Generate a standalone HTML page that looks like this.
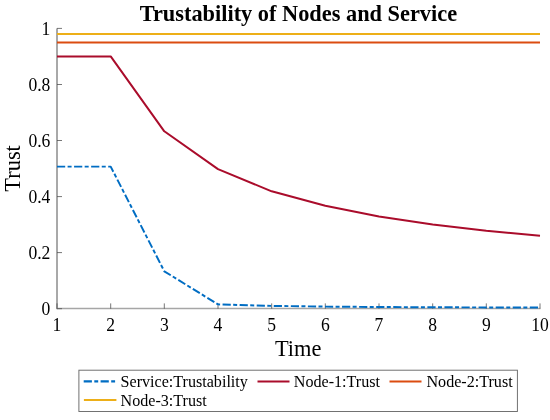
<!DOCTYPE html><html><head><meta charset="utf-8"><style>html,body{margin:0;padding:0;background:#fff}svg{display:block}text{font-family:"Liberation Serif",serif;fill:#000}</style></head><body>
<svg width="550" height="420" viewBox="0 0 550 420">
<rect width="550" height="420" fill="#fff"/>
<path d="M57.0 28.4V309.1" fill="none" stroke="#262626" stroke-width="0.8"/>
<path d="M56.6 308.5H540.4" fill="none" stroke="#a6a6a6" stroke-width="1.3"/>
<path d="M57.0 308.7v-5.3" stroke="#4a4a4a" stroke-width="0.75"/>
<text transform="translate(57.0,330.8) scale(1,1.03)" font-size="17.6" text-anchor="middle">1</text>
<path d="M110.7 308.7v-5.3" stroke="#4a4a4a" stroke-width="0.75"/>
<text transform="translate(110.7,330.8) scale(1,1.03)" font-size="17.6" text-anchor="middle">2</text>
<path d="M164.3 308.7v-5.3" stroke="#4a4a4a" stroke-width="0.75"/>
<text transform="translate(164.3,330.8) scale(1,1.03)" font-size="17.6" text-anchor="middle">3</text>
<path d="M218.0 308.7v-5.3" stroke="#4a4a4a" stroke-width="0.75"/>
<text transform="translate(218.0,330.8) scale(1,1.03)" font-size="17.6" text-anchor="middle">4</text>
<path d="M271.7 308.7v-5.3" stroke="#4a4a4a" stroke-width="0.75"/>
<text transform="translate(271.7,330.8) scale(1,1.03)" font-size="17.6" text-anchor="middle">5</text>
<path d="M325.3 308.7v-5.3" stroke="#4a4a4a" stroke-width="0.75"/>
<text transform="translate(325.3,330.8) scale(1,1.03)" font-size="17.6" text-anchor="middle">6</text>
<path d="M379.0 308.7v-5.3" stroke="#4a4a4a" stroke-width="0.75"/>
<text transform="translate(379.0,330.8) scale(1,1.03)" font-size="17.6" text-anchor="middle">7</text>
<path d="M432.7 308.7v-5.3" stroke="#4a4a4a" stroke-width="0.75"/>
<text transform="translate(432.7,330.8) scale(1,1.03)" font-size="17.6" text-anchor="middle">8</text>
<path d="M486.3 308.7v-5.3" stroke="#4a4a4a" stroke-width="0.75"/>
<text transform="translate(486.3,330.8) scale(1,1.03)" font-size="17.6" text-anchor="middle">9</text>
<path d="M540.0 308.7v-5.3" stroke="#4a4a4a" stroke-width="0.75"/>
<text transform="translate(540.0,330.8) scale(1,1.03)" font-size="17.6" text-anchor="middle">10</text>
<path d="M57.0 308.7h5" stroke="#4a4a4a" stroke-width="0.75"/>
<text transform="translate(50.4,314.9) scale(1,1.03)" font-size="17.6" text-anchor="end">0</text>
<path d="M57.0 252.6h5" stroke="#4a4a4a" stroke-width="0.75"/>
<text transform="translate(50.4,258.8) scale(1,1.03)" font-size="17.6" text-anchor="end">0.2</text>
<path d="M57.0 196.6h5" stroke="#4a4a4a" stroke-width="0.75"/>
<text transform="translate(50.4,202.8) scale(1,1.03)" font-size="17.6" text-anchor="end">0.4</text>
<path d="M57.0 140.5h5" stroke="#4a4a4a" stroke-width="0.75"/>
<text transform="translate(50.4,146.7) scale(1,1.03)" font-size="17.6" text-anchor="end">0.6</text>
<path d="M57.0 84.5h5" stroke="#4a4a4a" stroke-width="0.75"/>
<text transform="translate(50.4,90.7) scale(1,1.03)" font-size="17.6" text-anchor="end">0.8</text>
<path d="M57.0 28.4h5" stroke="#4a4a4a" stroke-width="0.75"/>
<text transform="translate(50.4,34.6) scale(1,1.03)" font-size="17.6" text-anchor="end">1</text>
<path d="M57.0 34.05H540.0" stroke="#EDAF18" stroke-width="2"/>
<path d="M57.0 42.6H540.0" stroke="#DB4C10" stroke-width="2"/>
<polyline points="57.0,56.4 110.7,56.4 164.3,131.3 218.0,169.1 271.7,191.3 325.3,205.8 379.0,216.5 432.7,224.6 486.3,230.8 540.0,235.8" fill="none" stroke="#AA0C2B" stroke-width="2" stroke-linejoin="round"/>
<polyline points="57.0,166.6 110.7,166.6 164.3,271.3 218.0,304.4 271.7,305.9 325.3,306.6 379.0,307.0 432.7,307.3 486.3,307.4 540.0,307.6" fill="none" stroke="#006DC3" stroke-width="1.95" stroke-dasharray="8.2 2.4 4 2.47" stroke-linejoin="round"/>
<text x="298.4" y="20.8" font-size="22.35" font-weight="bold" text-anchor="middle">Trustability of Nodes and Service</text>
<text x="298.2" y="355.9" font-size="22.4" text-anchor="middle">Time</text>
<text transform="translate(19.8,168.4) rotate(-90)" font-size="22.4" text-anchor="middle">Trust</text>
<rect x="78.9" y="370.2" width="438.5" height="41.3" fill="#fff" stroke="#6a6a6a" stroke-width="0.95"/>
<path d="M83.7 381.4h32" stroke="#006DC3" stroke-width="2.1" stroke-dasharray="8.2 2.4 3.9 2.4"/>
<text x="120.6" y="387.0" font-size="16.1">Service:Trustability</text>
<path d="M257.5 381.4h32" stroke="#AA0C2B" stroke-width="2"/>
<text x="293.8" y="387.0" font-size="16.1">Node-1:Trust</text>
<path d="M389.5 381.4h32" stroke="#DB4C10" stroke-width="2"/>
<text x="426.5" y="387.0" font-size="16.1">Node-2:Trust</text>
<path d="M83.9 400h32.5" stroke="#EDAF18" stroke-width="2"/>
<text x="120.6" y="405.8" font-size="16.1">Node-3:Trust</text>
</svg></body></html>
